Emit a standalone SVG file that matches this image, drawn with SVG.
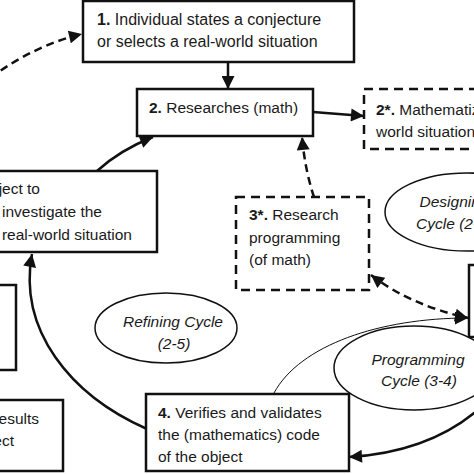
<svg xmlns="http://www.w3.org/2000/svg" width="474" height="474" viewBox="0 0 474 474">
<style>
  .box { fill: #fff; stroke: #111; stroke-width: 2.5; }
  .dbox { fill: #fff; stroke: #111; stroke-width: 2.5; stroke-dasharray: 9 6; }
  .ell { fill: #fff; stroke: #111; stroke-width: 1.5; }
  .t { font-family: "Liberation Sans", Arial, sans-serif; font-size: 15.5px; fill: #1a1a1a; }
  .it { font-style: italic; }
  .b { font-weight: bold; }
  .c { fill: none; stroke: #111; stroke-width: 2.5; }
  .dash { stroke-dasharray: 8 5; }
  .thin { stroke-width: 1; }
</style>
<defs>
  <marker id="ah" viewBox="0 0 10 10" refX="10" refY="5" markerUnits="userSpaceOnUse" markerWidth="15" markerHeight="13" orient="auto-start-reverse">
    <path d="M0,0 L10,5 L0,10 Z" fill="#111"/>
  </marker>
</defs>
<rect width="474" height="474" fill="#fff"/>

<g id="connectors">
  <path class="c dash" d="M-10,78 Q35,45 82,34" marker-end="url(#ah)"/>
  <path class="c" d="M228,62 L228,89" marker-end="url(#ah)"/>
  <path class="c" d="M313,112 L364,116" marker-end="url(#ah)"/>
  <path class="c" d="M97,171 Q120,150 153,137" marker-end="url(#ah)"/>
  <path class="c dash" d="M314,197 Q305,170 302,137" marker-end="url(#ah)"/>
  <path class="c dash" d="M371,275 Q410,305 468,318" marker-start="url(#ah)" marker-end="url(#ah)"/>
  <path class="c" d="M147,429 C70,395 18,330 32,254" marker-end="url(#ah)"/>
  <path class="c" d="M480,408 Q430,452 349,457" marker-end="url(#ah)"/>
</g>

<g id="node-5-left">
  <rect class="box" x="-20" y="171" width="177" height="81"/>
  <text class="t" x="40" y="194" text-anchor="end">object to</text>
  <text class="t" x="102" y="217" text-anchor="end">investigate the</text>
  <text class="t" x="132" y="240" text-anchor="end">real-world situation</text>
</g>

<g id="node-left-mid">
  <rect class="box" x="-20" y="285" width="36" height="85"/>
</g>

<g id="node-left-bottom">
  <rect class="box" x="-20" y="400" width="83" height="71"/>
  <text class="t" x="39" y="424" text-anchor="end">results</text>
  <text class="t" x="14" y="446" text-anchor="end">object</text>
</g>

<g id="node-1">
  <rect class="box" x="83" y="1" width="271" height="61"/>
  <text class="t" x="97" y="25" style="font-size:16px"><tspan class="b">1.</tspan>  Individual states a conjecture</text>
  <text class="t" x="97" y="47" style="font-size:16px">or selects a real-world situation</text>
</g>

<g id="node-2">
  <rect class="box" x="137" y="89" width="176" height="47"/>
  <text class="t" x="149" y="113"><tspan class="b">2.</tspan> Researches (math)</text>
</g>

<g id="node-2star">
  <rect class="dbox" x="364" y="89" width="240" height="60"/>
  <text class="t" x="376" y="115"><tspan class="b">2*.</tspan> Mathematizes real-</text>
  <text class="t" x="376" y="137">world situation</text>
</g>

<g id="node-3star">
  <rect class="dbox" x="236" y="197" width="133" height="93"/>
  <text class="t" x="249" y="220"><tspan class="b">3*.</tspan> Research</text>
  <text class="t" x="249" y="243">programming</text>
  <text class="t" x="249" y="265">(of math)</text>
</g>

<g id="designing-cycle">
  <ellipse class="ell" cx="467" cy="212" rx="82" ry="39"/>
  <text class="t it" x="454" y="207" text-anchor="middle">Designing</text>
  <text class="t it" x="454" y="229" text-anchor="middle">Cycle (2-3)</text>
</g>

<g id="node-right">
  <rect class="box" x="469" y="265" width="130" height="72"/>
</g>

<g id="refining-cycle">
  <ellipse class="ell" cx="166" cy="328" rx="71" ry="35"/>
  <text class="t it" x="173" y="327" text-anchor="middle">Refining Cycle</text>
  <text class="t it" x="174" y="349" text-anchor="middle">(2-5)</text>
</g>

<g id="programming-cycle">
  <ellipse class="ell" cx="414" cy="368" rx="80" ry="42"/>
  <text class="t it" x="418" y="365" text-anchor="middle">Programming</text>
  <text class="t it" x="419" y="386" text-anchor="middle">Cycle (3-4)</text>
</g>

<g id="thin-connector">
  <path class="c thin" d="M274,393 C300,345 380,318 468,318" marker-end="url(#ah)"/>
</g>

<g id="node-4">
  <rect class="box" x="146" y="394" width="203" height="77"/>
  <text class="t" x="158" y="418"><tspan class="b">4.</tspan> Verifies and validates</text>
  <text class="t" x="158" y="440">the (mathematics) code</text>
  <text class="t" x="158" y="462">of the object</text>
</g>
</svg>
